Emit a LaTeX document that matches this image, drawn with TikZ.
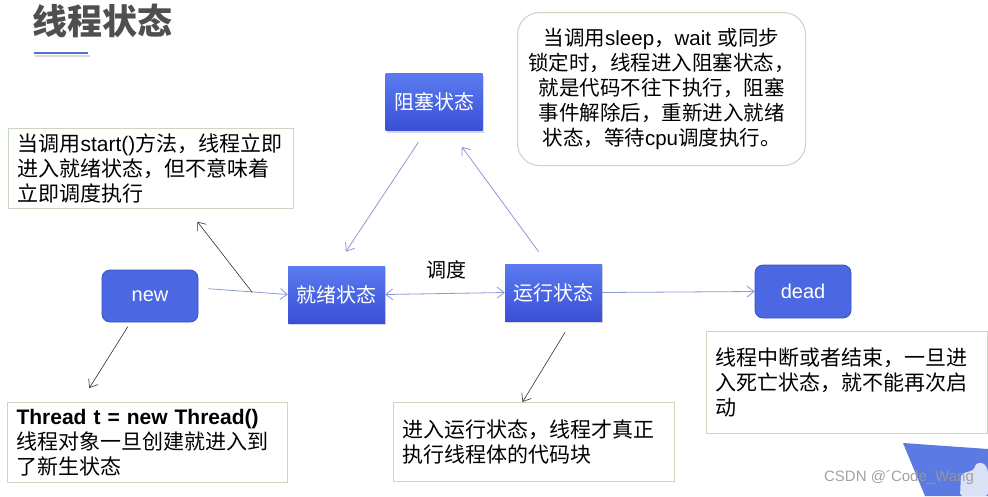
\documentclass[tikz,border=0pt]{standalone}
\usepackage{fontspec}
\setmainfont{Noto Sans CJK SC}
\newfontfamily\lat{Liberation Sans}
\usetikzlibrary{arrows.meta,shadows,calc}

\definecolor{gradtop}{HTML}{5B7CF0}
\definecolor{gradbot}{HTML}{3A4FD6}
\definecolor{pillfill}{HTML}{4B68E2}
\definecolor{pilledge}{HTML}{3852C4}
\definecolor{flowline}{HTML}{8C9AD6}
\definecolor{noteedge}{HTML}{C9D8C2}
\definecolor{titlegray}{HTML}{4F4F4F}
\definecolor{rulecol}{HTML}{5470D2}
\definecolor{cornerblue}{HTML}{5B7AE2}
\definecolor{cornerpale}{HTML}{DCE2F6}

\tikzset{
  statebox/.style={rectangle, top color=gradtop, bottom color=gradbot,
    draw=none, text=white, font=\fontsize{20}{24}\selectfont,
    minimum width=97pt, minimum height=57pt, inner sep=0pt,
    drop shadow={shadow xshift=1pt, shadow yshift=-2pt, opacity=0.3}},
  pill/.style={rectangle, rounded corners=8pt, fill=pillfill, draw=pilledge,
    line width=0.8pt, text=white, font=\lat\fontsize{20}{24}\selectfont,
    minimum width=96pt, minimum height=52pt, inner sep=0pt},
  note/.style={rectangle, draw=noteedge, line width=1.1pt, fill=white,
    anchor=north west, inner xsep=9pt, inner ysep=0pt, align=left,
    font=\fontsize{21}{25}\selectfont},
  flow/.style={draw=flowline, line width=0.8pt,
    -{Straight Barb[length=7pt, width=11pt]}},
  twoway/.style={draw=flowline, line width=0.8pt,
    {Straight Barb[length=7pt, width=11pt]}-{Straight Barb[length=7pt, width=11pt]}},
  pointer/.style={draw=black!80, line width=0.6pt,
    -{Straight Barb[length=7pt, width=11pt]}},
}

\begin{document}
\begin{tikzpicture}[x=1pt, y=-1pt]
\useasboundingbox (0,0) rectangle (988,496);
\fill[white] (0,0) rectangle (988,496);

% heading and its rule
\node[font=\bfseries\fontsize{35}{38}\selectfont, text=titlegray] (title) at (102.5,21) {线程状态};
\draw[black!15, line width=2pt] (35,56) -- (90,56);
\draw[rulecol, line width=2pt] (34,53) -- (88,53);

% states
\node[pill] (new) at (150,296) {new};
\node[statebox] (rdy) at (336.5,294.5) {就绪状态};
\node[statebox] (blk) at (434,102) {阻塞状态};
\node[statebox] (run) at (553.5,292.5) {运行状态};
\node[pill, minimum height=53pt] (dead) at (803,291.5) {dead};
\node[font=\fontsize{20}{24}\selectfont] (sched) at (446,270) {调度};

% notes
\node[note, minimum width=285pt, minimum height=80pt, text width=267pt] (nstart) at (8,128)
  {当调用{\lat start()}方法，线程立即\\进入就绪状态，但不意味着\\立即调度执行};
\node[note, minimum width=280pt, minimum height=80pt, text width=262pt] (nnew) at (7,402)
  {{\lat\bfseries Thread t = new Thread()}\\线程对象一旦创建就进入到\\了新生状态};
\node[note, minimum width=281pt, minimum height=79pt, text width=263pt] (nrun) at (393,402)
  {进入运行状态，线程才真正\\执行线程体的代码块};
\node[note, minimum width=281pt, minimum height=102pt, text width=263pt, inner xsep=8pt] (ndead) at (706,331)
  {线程中断或者结束，一旦进\\入死亡状态，就不能再次启\\动};
\node[note, rounded corners=22pt, minimum width=285pt, minimum height=153pt,
  text width=270pt, align=center, font=\fontsize{20.5}{25}\selectfont] (nblk) at (517,12)
  {当调用{\lat sleep}，{\lat wait }或同步\\锁定时，线程进入阻塞状态，\\就是代码不往下执行，阻塞\\事件解除后，重新进入就绪\\状态，等待{\lat cpu}调度执行。};

% transitions between states
\draw[flow, shorten <=10pt] ([yshift=8pt]new.east) -- (rdy.west);
\draw[twoway] (rdy.east) -- (run.west);
\draw[flow] (run.east) -- (dead.west);
\draw[flow, shorten <=14pt, shorten >=17pt] ([xshift=-8pt]blk.south) -- (rdy.north);
\draw[flow, shorten <=15pt, shorten >=20pt] ([xshift=-6pt]run.north) -- ([xshift=16pt]blk.south);

% pointers to the notes
\coordinate (tail) at (252,292);
\draw[pointer, shorten >=16pt] (tail) -- ([xshift=36.5pt]nstart.south);
\draw[pointer, shorten <=5pt, shorten >=16.5pt] ([xshift=-19.5pt]new.south) -- ([xshift=-67pt]nnew.north);
\draw[pointer, shorten <=13pt] ([xshift=18.3pt]run.south) -- ([xshift=-11.5pt]nrun.north);

% corner mark and credit line
\fill[cornerblue] (903,443) -- (988,449) -- (988,496) -- (925,496) -- cycle;
\fill[cornerpale, rounded corners=3pt] (960,496) -- (961,474) -- (974,470) -- (976,463)
  -- (984,463) -- (988,470) -- (988,496) -- cycle;
\node[font=\lat\fontsize{15}{18}\selectfont, text=black!40, opacity=0.9] (credit) at (899,478) {CSDN @´Code\_Wang};
\end{tikzpicture}
\end{document}
